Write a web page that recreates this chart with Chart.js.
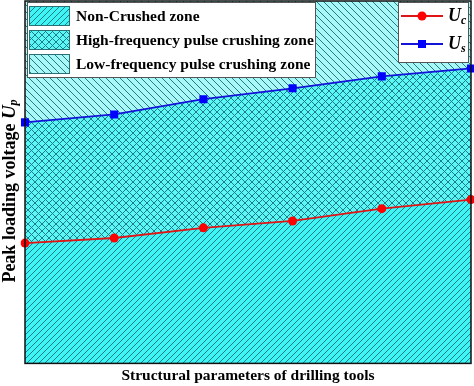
<!DOCTYPE html>
<html>
<head>
<meta charset="utf-8">
<script src="https://cdn.jsdelivr.net/npm/chart.js@4/dist/chart.umd.min.js"></script>
<style>
  html, body { margin: 0; padding: 0; background: #fff; }
  #wrap { width: 474px; height: 386px; }
</style>
</head>
<body>
<div id="wrap"><canvas id="chart"></canvas></div>
<script>
const categories = ['S1', 'S2', 'S3', 'S4', 'S5', 'S6'];
const ucValues = [33.2, 34.6, 37.4, 39.3, 42.7, 45.2];
const usValues = [66.5, 68.7, 72.9, 75.9, 79.2, 81.4];
const zoneLabels = ['Non-Crushed zone', 'High-frequency pulse crushing zone', 'Low-frequency pulse crushing zone'];

const serif = '"Liberation Serif", "Times New Roman", serif';
const hatchLine = '#1d7f86';

// small tiles with diagonal lines, repeated as fill patterns
const makeHatch = (bg, dirs, step) => {
  const tile = document.createElement('canvas');
  tile.width = step;
  tile.height = step;
  const t = tile.getContext('2d');
  t.fillStyle = bg;
  t.fillRect(0, 0, step, step);
  t.strokeStyle = hatchLine;
  t.lineWidth = 1;
  dirs.forEach((d) => {
    t.beginPath();
    [-step, 0, step].forEach((k) => {
      if (d === '/') {
        t.moveTo(k, step);
        t.lineTo(k + step, 0);
      } else {
        t.moveTo(k, 0);
        t.lineTo(k + step, step);
      }
    });
    t.stroke();
  });
  return t.createPattern(tile, 'repeat');
};

const lowPattern = makeHatch('#3ff4f4', ['/'], 6);
const highPattern = makeHatch('#5cf6f6', ['/', '\\'], 7);
const topPattern = makeHatch('#a9f7f7', ['\\'], 7);
const zonePatterns = [lowPattern, highPattern, topPattern];

const drawU = (ctx, x, y, sub) => {
  ctx.fillStyle = '#000';
  ctx.textBaseline = 'middle';
  ctx.textAlign = 'left';
  ctx.font = 'italic bold 18px ' + serif;
  ctx.fillText('U', x, y);
  const w = ctx.measureText('U').width;
  ctx.font = 'italic bold 12px ' + serif;
  ctx.fillText(sub, x + w, y + 5);
};

const decorations = {
  id: 'decorations',
  afterDraw(chart) {
    const ctx = chart.ctx;
    const a = chart.chartArea;
    ctx.save();

    // frame
    ctx.strokeStyle = '#111';
    ctx.lineWidth = 1.5;
    ctx.strokeRect(a.left, a.top, a.right - a.left, a.bottom - a.top);

    // y title
    ctx.translate(10, 191);
    ctx.rotate(-Math.PI / 2);
    ctx.textBaseline = 'middle';
    ctx.fillStyle = '#000';
    const main = 'Peak loading voltage ';
    ctx.font = 'bold 18px ' + serif;
    const w1 = ctx.measureText(main).width;
    ctx.font = 'italic bold 19px ' + serif;
    const w2 = ctx.measureText('U').width;
    ctx.font = 'italic bold 12px ' + serif;
    const w3 = ctx.measureText('p').width;
    let x = -(w1 + w2 + w3) / 2;
    ctx.font = 'bold 18px ' + serif;
    ctx.fillText(main, x, 0);
    x += w1;
    ctx.font = 'italic bold 19px ' + serif;
    ctx.fillText('U', x, 0);
    x += w2;
    ctx.font = 'italic bold 12px ' + serif;
    ctx.fillText('p', x, 4);
    ctx.setTransform(1, 0, 0, 1, 0, 0);

    // zone legend
    ctx.fillStyle = '#fff';
    ctx.fillRect(27, 2, 289, 76);
    ctx.strokeStyle = '#555';
    ctx.lineWidth = 1;
    ctx.strokeRect(27.5, 2.5, 288, 75);
    zoneLabels.forEach((label, i) => {
      const y = 6 + i * 24;
      ctx.fillStyle = zonePatterns[i];
      ctx.fillRect(29, y, 41, 20);
      ctx.strokeStyle = '#2a6f74';
      ctx.strokeRect(29.5, y + 0.5, 40, 19);
      ctx.fillStyle = '#000';
      ctx.font = 'bold 15.5px ' + serif;
      ctx.textBaseline = 'middle';
      ctx.textAlign = 'left';
      ctx.fillText(label, 76, y + 11);
    });

    // line legend
    ctx.fillStyle = '#fff';
    ctx.fillRect(398, 2, 71, 61);
    ctx.strokeStyle = '#555';
    ctx.strokeRect(398.5, 2.5, 70, 60);
    const rows = [
      { color: '#e01414', point: '#ff0000', y: 16, sub: 'c', shape: 'circle' },
      { color: '#1414d8', point: '#0000ff', y: 44, sub: 's', shape: 'rect' },
    ];
    rows.forEach((r) => {
      ctx.strokeStyle = r.color;
      ctx.lineWidth = 1.8;
      ctx.beginPath();
      ctx.moveTo(401, r.y);
      ctx.lineTo(443, r.y);
      ctx.stroke();
      ctx.fillStyle = r.point;
      if (r.shape === 'circle') {
        ctx.beginPath();
        ctx.arc(422, r.y, 4.5, 0, Math.PI * 2);
        ctx.fill();
      } else {
        ctx.fillRect(418, r.y - 4, 8, 8);
      }
      drawU(ctx, 448, r.y, r.sub);
    });

    ctx.restore();
  },
};

new Chart(document.getElementById('chart'), {
  type: 'line',
  data: {
    labels: categories,
    datasets: [
      {
        label: 'Uc',
        data: ucValues,
        borderColor: '#e01414',
        backgroundColor: '#ff0000',
        borderWidth: 1.8,
        pointStyle: 'circle',
        pointRadius: 4.5,
        pointBorderWidth: 0,
        fill: false,
        order: 0,
      },
      {
        label: 'Us',
        data: usValues,
        borderColor: '#1414d8',
        backgroundColor: '#0000ff',
        borderWidth: 1.8,
        pointStyle: 'rect',
        pointRadius: 5.7,
        pointBorderWidth: 0,
        fill: false,
        order: 0,
      },
      {
        label: zoneLabels[0],
        data: ucValues,
        borderWidth: 0,
        pointRadius: 0,
        backgroundColor: lowPattern,
        fill: 'start',
        order: 1,
      },
      {
        label: zoneLabels[1],
        data: usValues,
        borderWidth: 0,
        pointRadius: 0,
        backgroundColor: highPattern,
        fill: 2,
        order: 1,
      },
      {
        label: zoneLabels[2],
        data: usValues,
        borderWidth: 0,
        pointRadius: 0,
        backgroundColor: topPattern,
        fill: 'end',
        order: 1,
      },
    ],
  },
  options: {
    responsive: true,
    maintainAspectRatio: false,
    animation: false,
    layout: { autoPadding: false, padding: { left: 25, right: 3, top: 1, bottom: 0 } },
    scales: {
      x: { display: false },
      y: { display: false, min: 0, max: 100 },
    },
    plugins: {
      legend: { display: false },
      tooltip: { enabled: false },
      title: {
        display: true,
        position: 'bottom',
        text: 'Structural parameters of drilling tools',
        color: '#000',
        font: { family: serif, size: 15.5, weight: 'bold', lineHeight: 1.2 },
        padding: { top: 3, bottom: 1 },
      },
    },
  },
  plugins: [decorations],
});
</script>
</body>
</html>
